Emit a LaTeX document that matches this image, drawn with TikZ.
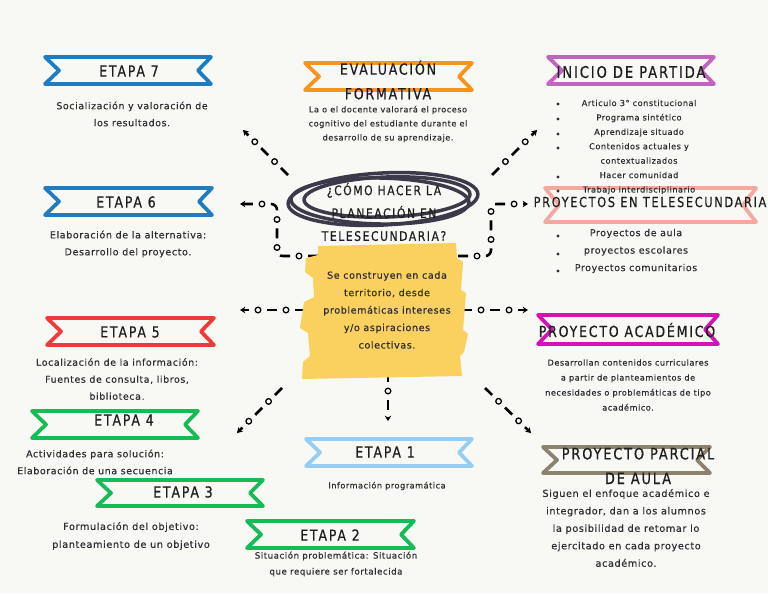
\documentclass[tikz,border=0pt]{standalone}
\usepackage{fontspec}
\usetikzlibrary{arrows.meta,decorations.markings}
\newfontfamily\headfont[LetterSpace=12,FakeStretch=0.82,FakeBold=0.6]{DejaVu Sans}
\newfontfamily\bodyfont[LetterSpace=6,FakeBold=0.3]{DejaVu Sans}
\definecolor{paper}{RGB}{248,248,245}
\definecolor{ink}{RGB}{45,45,50}
\definecolor{headink}{RGB}{30,30,30}
\definecolor{etblue}{RGB}{30,125,192}
\definecolor{evorange}{RGB}{247,148,30}
\definecolor{ippurple}{RGB}{192,100,192}
\definecolor{ptsalmon}{RGB}{245,168,160}
\definecolor{etred}{RGB}{240,58,58}
\definecolor{etgreen}{RGB}{22,186,86}
\definecolor{etsky}{RGB}{150,205,242}
\definecolor{pamagenta}{RGB}{212,18,182}
\definecolor{pptaupe}{RGB}{140,130,110}
\definecolor{loopgray}{RGB}{60,58,74}
\definecolor{notey}{RGB}{250,208,95}
\def\ribbon[#1](#2,#3)(#4,#5){\draw[#1] (#2,#3) -- (#4,#3) -- ({#4-13},{(#3+#5)/2}) -- (#4,#5) -- (#2,#5) -- ({#2+14},{(#3+#5)/2}) -- cycle;}

\begin{document}
\begin{tikzpicture}[x=0.03cm, y=-0.03cm,
    band/.style={line width=3.2pt, line join=round, line cap=round},
    head/.style={font=\headfont\fontsize{#1}{21}\selectfont, text=headink, align=center, inner sep=0pt},
    head/.default=13,
    body/.style 2 args={font=\bodyfont\fontsize{#1}{#2}\selectfont, text=ink, align=center, inner sep=0pt},
    conn/.style={line width=2.2pt, draw=black, dash pattern=on 0.3cm off 0.54cm,
      -{Stealth[length=4.5pt,width=5.5pt]}, postaction={decorate},
      decoration={markings, mark=between positions 0.57cm and -0.3cm step 0.84cm with
        {\draw[solid, line width=1.1pt, fill=paper] (0,0) circle (2.4pt);}}}]
			%%%%% START %%%%%
			\fill[paper] (0,0) rectangle (768,593);
			\useasboundingbox (0,0) rectangle (768,593);

			% connectors
			\coordinate (c-tl) at (288,175); \coordinate (a-tl) at (243,130);
			\coordinate (c-tr) at (492,175); \coordinate (a-tr) at (537,130);
			\coordinate (c-l1) at (318,256); \coordinate (k-l1) at (277,230); \coordinate (a-l1) at (240,204);
			\coordinate (c-r1) at (458,256); \coordinate (k-r1) at (491,230); \coordinate (a-r1) at (528,204);
			\coordinate (c-l2) at (305,310); \coordinate (a-l2) at (240,310);
			\coordinate (c-r2) at (462,310); \coordinate (a-r2) at (528,310);
			\coordinate (c-b) at (388,372); \coordinate (a-b) at (388,421);
			\coordinate (c-bl) at (282,388); \coordinate (a-bl) at (237,433);
			\coordinate (c-br) at (485,388); \coordinate (a-br) at (531,433);
			\draw[conn] (c-tl) -- (a-tl);
			\draw[conn] (c-tr) -- (a-tr);
			\draw[conn, rounded corners=5pt] (c-l1) -| (k-l1) |- (a-l1);
			\draw[conn, rounded corners=5pt] (c-r1) -| (k-r1) |- (a-r1);
			\draw[conn] (c-l2) -- (a-l2);
			\draw[conn] (c-r2) -- (a-r2);
			\draw[conn] (c-b) -- (a-b);
			\draw[conn] (c-bl) -- (a-bl);
			\draw[conn] (c-br) -- (a-br);

			% centre question
			\draw[line width=3pt, loopgray] (383,199) ellipse [x radius=95, y radius=26, rotate=3];
			\draw[line width=3pt, loopgray] (387,197) ellipse [x radius=83, y radius=20, rotate=2];
			\draw[line width=3pt, loopgray] (380,201) ellipse [x radius=89, y radius=23, rotate=-1];
			\fill[notey] (318,246) -- (456,243) -- (457,258) -- (463,262) -- (461,290) -- (466,293)
				-- (463,330) -- (468,334) -- (464,352) -- (460,356) -- (462,376) -- (302,379)
				-- (303,362) -- (310,356) -- (308,333) -- (300,328) -- (304,302) -- (314,297)
				-- (313,278) -- (305,272) -- (306,258) -- (318,255) -- cycle;
			\node[head, font=\headfont\fontsize{11.2}{19.5}\selectfont] (q) at (384,212) {¿CÓMO HACER LA\\PLANEACIÓN EN\\TELESECUNDARIA?};
			\node[body={8.2}{14.9}] (yb) at (387,310) {Se construyen en cada\\territorio, desde\\problemáticas intereses\\y/o aspiraciones\\colectivas.};

			% ribbons
			\ribbon[band, etblue](45,57)(211,84)
			\ribbon[band, evorange](305,63)(472,90)
			\ribbon[band, ippurple](548,57)(714,84)
			\ribbon[band, ptsalmon](545,188)(756,222)
			\ribbon[band, etblue](45,188)(212,215)
			\ribbon[band, etred](47,318)(214,345)
			\ribbon[band, etgreen](32,411)(198,438)
			\ribbon[band, etgreen](97,480)(263,506)
			\ribbon[band, etgreen](247,521)(414,548)
			\ribbon[band, etsky](306,439)(472,466)
			\ribbon[band, pamagenta](538,315)(718,344)
			\ribbon[band, pptaupe](543,447)(710,473)

			% headings
			\node[head] (e7) at (129,71) {ETAPA 7};
			\node[head] (ev) at (388,80) {EVALUACIÓN\\FORMATIVA};
			\node[head=13.6] (ip) at (631,72) {INICIO DE PARTIDA};
			\node[head=11.8] (pt) at (650,202) {PROYECTOS EN TELESECUNDARIA};
			\node[head] (e6) at (126,202) {ETAPA 6};
			\node[head] (e5) at (130,332) {ETAPA 5};
			\node[head] (e4) at (124,420) {ETAPA 4};
			\node[head] (e3) at (183,492) {ETAPA 3};
			\node[head] (e2) at (330,535) {ETAPA 2};
			\node[head] (e1) at (385,452) {ETAPA 1};
			\node[head] (pa) at (627,330) {PROYECTO ACADÉMICO};
			\node[head=13.4] (pp) at (638,466) {PROYECTO PARCIAL\\DE AULA};

			% texts
			\node[body={8.1}{14.5}] (e7-t) at (132,114) {Socialización y valoración de\\los resultados.};
			\node[body={7}{12}] (ev-t) at (388,124) {La o el docente valorará el proceso\\cognitivo del estudiante durante el\\desarrollo de su aprendizaje.};
			\node[body={7}{12.3}] (ip-t) at (639,147) {Articulo 3° constitucional\\Programa sintético\\Aprendizaje situado\\Contenidos actuales y\\contextualizados\\Hacer comunidad\\Trabajo interdisciplinario};
			\foreach \y in {104,119,134,148,177,191} \fill[ink] (558,\y) circle (1.6);
			\node[body={8.1}{14.9}] (pt-t) at (636,251) {Proyectos de aula\\proyectos escolares\\Proyectos comunitarios};
			\foreach \y in {236,254,271} \fill[ink] (558,\y) circle (1.6);
			\node[body={8.2}{14.5}] (e6-t) at (128,244) {Elaboración de la alternativa:\\Desarrollo del proyecto.};
			\node[body={8.1}{14.5}] (e5-t) at (117,379) {Localización de la información:\\Fuentes de consulta, libros,\\biblioteca.};
			\node[body={8.1}{14.5}] (e4-t) at (95,462) {Actividades para solución:\\Elaboración de una secuencia};
			\node[body={8.3}{15.3}] (e3-t) at (131,536) {Formulación del objetivo:\\planteamiento de un objetivo};
			\node[body={7.4}{13.6}] (e2-t) at (336,564) {Situación problemática: Situación\\que requiere ser fortalecida};
			\node[body={7}{14}] (e1-t) at (387,486) {Información programática};
			\node[body={7}{12.8}] (pa-t) at (628,385) {Desarrollan contenidos curriculares\\a partir de planteamientos de\\necesidades o problemáticas de tipo\\académico.};
			\node[body={8.3}{14.9}] (pp-t) at (626,528) {Siguen el enfoque académico e\\integrador, dan a los alumnos\\la posibilidad de retomar lo\\ejercitado en cada proyecto\\académico.};
			%%%%% END %%%%%
\end{tikzpicture}
\end{document}
